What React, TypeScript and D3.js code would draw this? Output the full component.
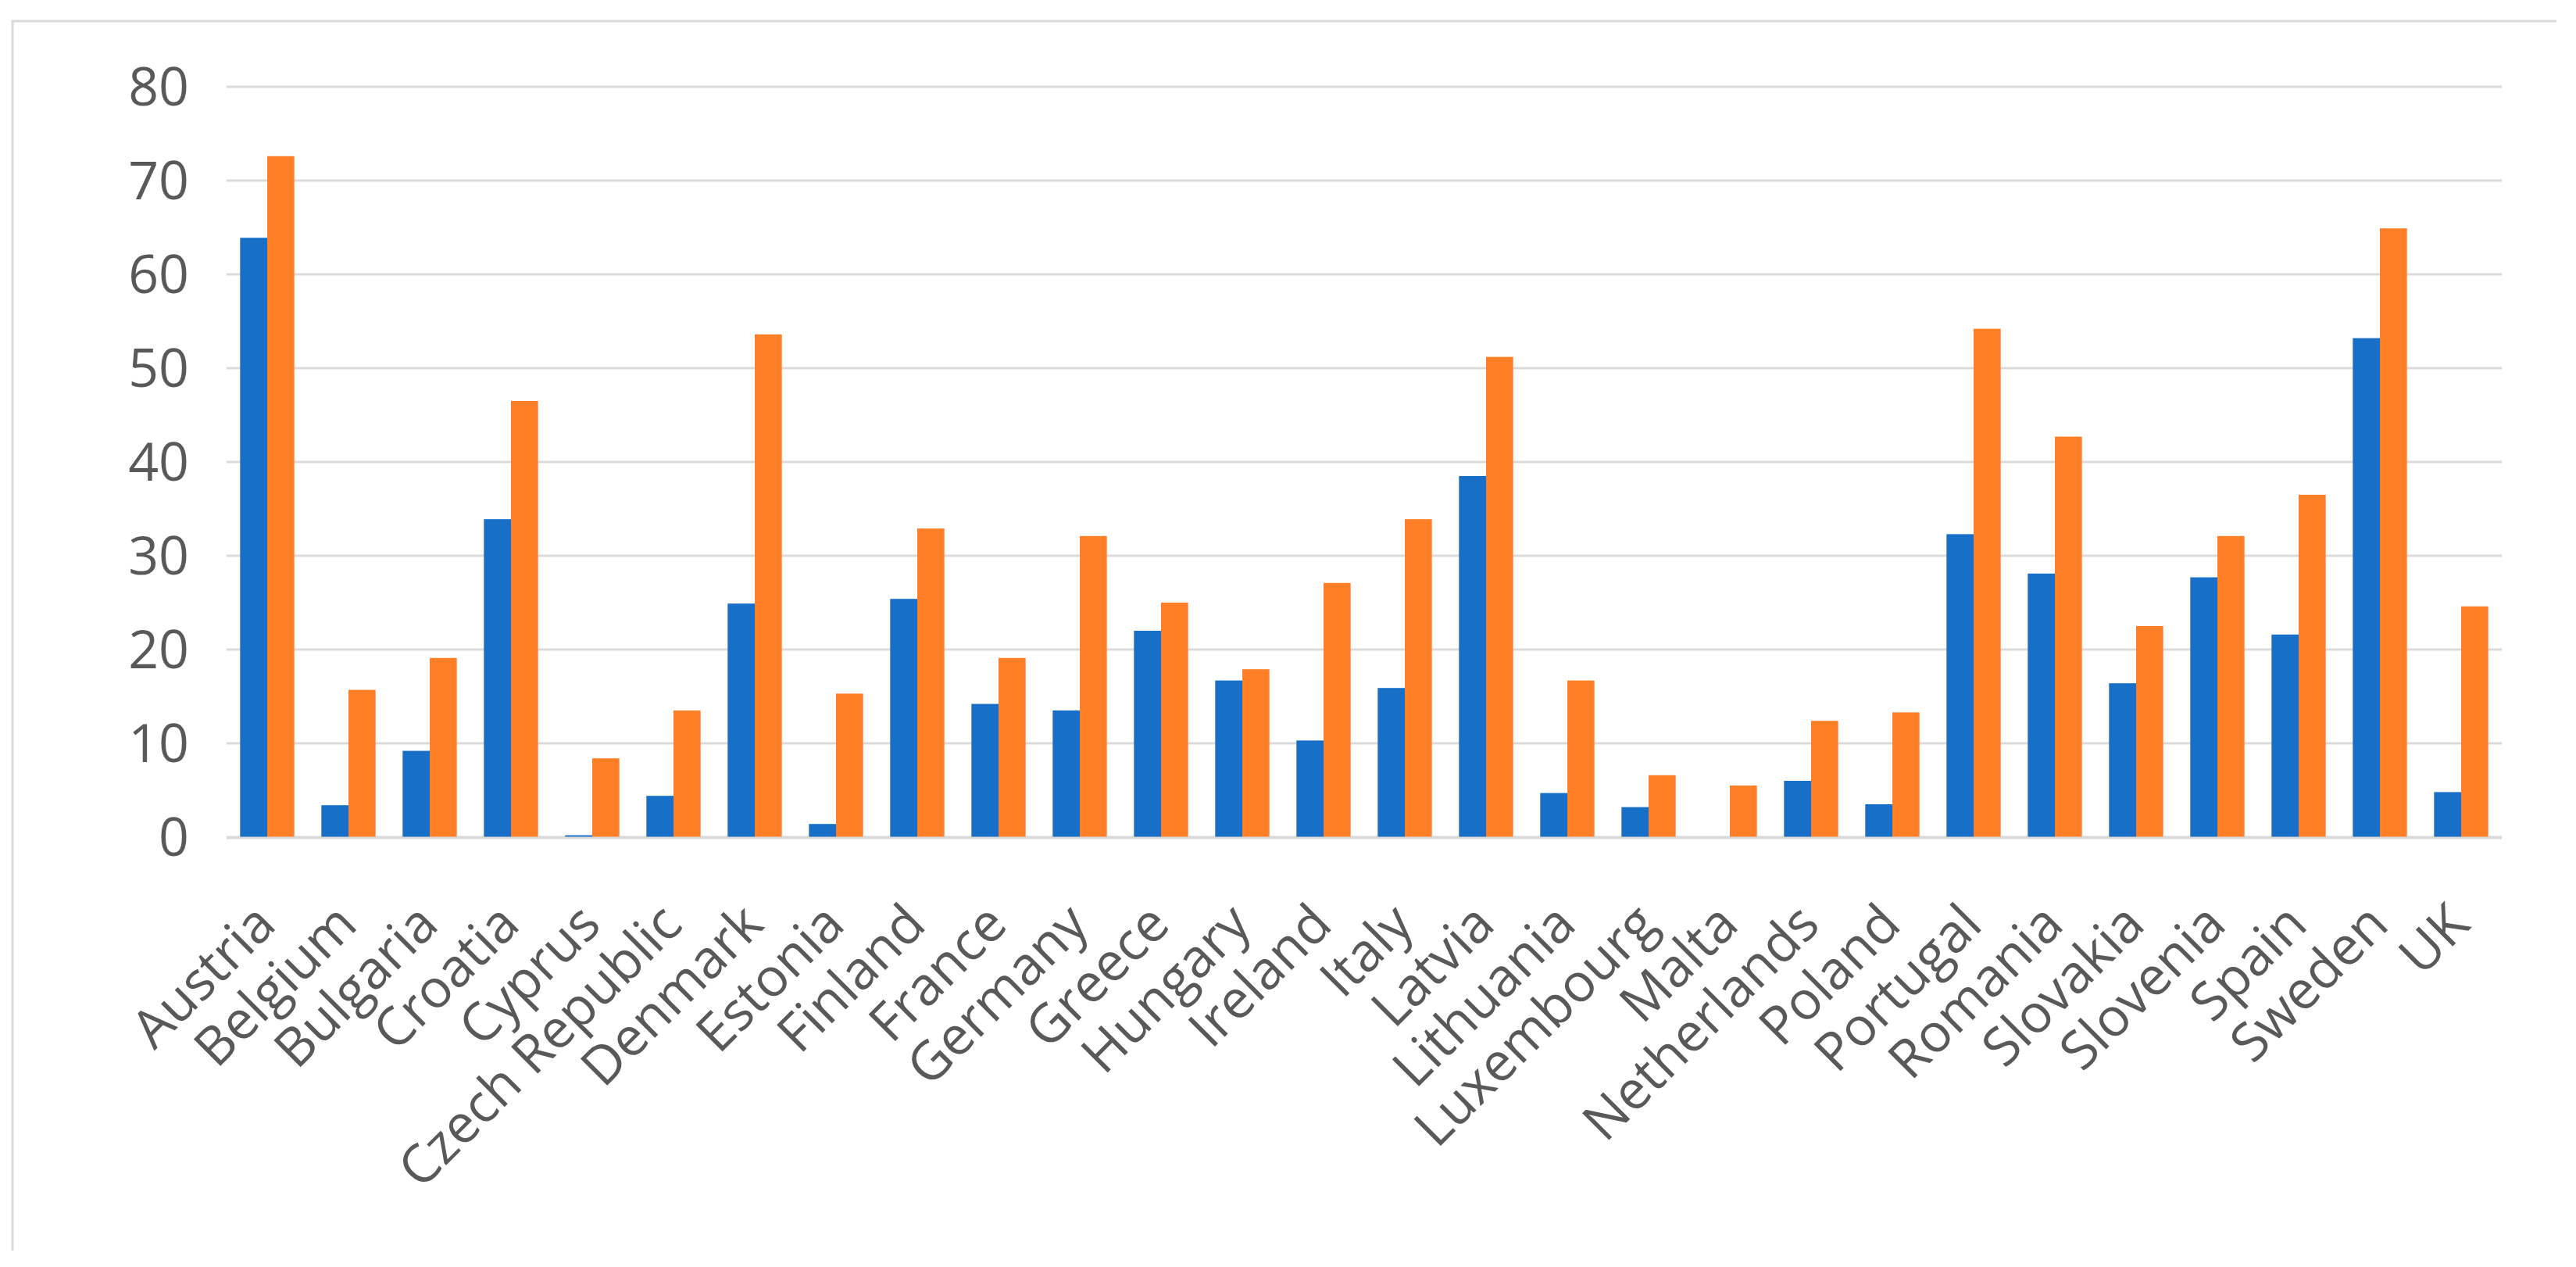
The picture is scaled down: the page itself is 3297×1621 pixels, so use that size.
import { useEffect, useRef } from 'react'
import * as d3 from 'd3'

const countries = [
  'Austria', 'Belgium', 'Bulgaria', 'Croatia', 'Cyprus', 'Czech Republic', 'Denmark', 'Estonia',
  'Finland', 'France', 'Germany', 'Greece', 'Hungary', 'Ireland', 'Italy', 'Latvia', 'Lithuania',
  'Luxembourg', 'Malta', 'Netherlands', 'Poland', 'Portugal', 'Romania', 'Slovakia', 'Slovenia',
  'Spain', 'Sweden', 'UK',
]
const blueValues = [
  63.9, 3.4, 9.2, 33.9, 0.2, 4.4, 24.9, 1.4,
  25.4, 14.2, 13.5, 22.0, 16.7, 10.3, 15.9, 38.5, 4.7,
  3.2, 0, 6.0, 3.5, 32.3, 28.1, 16.4, 27.7,
  21.6, 53.2, 4.8,
]
const orangeValues = [
  72.6, 15.7, 19.1, 46.5, 8.4, 13.5, 53.6, 15.3,
  32.9, 19.1, 32.1, 25.0, 17.9, 27.1, 33.9, 51.2, 16.7,
  6.6, 5.5, 12.4, 13.3, 54.2, 42.7, 22.5, 32.1,
  36.5, 64.9, 24.6,
]
const yTicks = [0, 10, 20, 30, 40, 50, 60, 70, 80]
const seriesKeys = ['blue', 'orange']
const seriesColors = ['#176fc8', '#ff7f27']

const W = 3297
const H = 1621

export default function App() {
  const ref = useRef<SVGSVGElement | null>(null)
  useEffect(() => {
    const svg = d3.select(ref.current)
    svg.selectAll('*').remove()

    const left = 290
    const right = 3202
    const y0 = 1071
    const y80 = 111
    const font = "'Open Sans', 'Noto Sans', sans-serif"

    const x = d3.scaleBand<string>().domain(countries).range([left, right]).padding(0)
    const xs = d3.scaleBand<string>().domain(seriesKeys).range([0, x.bandwidth()]).paddingInner(0).paddingOuter(0.5)
    const y = d3.scaleLinear().domain([0, 80]).range([y0, y80])

    svg.append('rect').attr('width', W).attr('height', H).attr('fill', '#fff')

    // chart frame (only top and left edges are visible in the crop)
    svg.append('path')
      .attr('d', `M16,${H - 21} L16,27 L3272,27`)
      .attr('fill', 'none')
      .attr('stroke', '#d9d9d9')
      .attr('stroke-width', 3)

    const grid = svg.append('g')
    grid.selectAll('line')
      .data(yTicks)
      .enter()
      .append('line')
      .attr('x1', left)
      .attr('x2', right)
      .attr('y1', (d: number) => y(d))
      .attr('y2', (d: number) => y(d))
      .attr('stroke', '#d9d9d9')
      .attr('stroke-width', 3)

    svg.append('g')
      .selectAll('text')
      .data(yTicks)
      .enter()
      .append('text')
      .attr('x', 242)
      .attr('y', (d: number) => y(d))
      .attr('dy', '0.36em')
      .attr('text-anchor', 'end')
      .attr('font-family', font)
      .attr('font-size', 68)
      .attr('fill', '#595959')
      .text((d: number) => String(d))

    const rows = countries.map((c, i) => ({ c, vals: [blueValues[i], orangeValues[i]] }))
    const groups = svg.append('g')
      .selectAll('g')
      .data(rows)
      .enter()
      .append('g')
      .attr('transform', (d: any) => `translate(${x(d.c)},0)`)

    groups.selectAll('rect')
      .data((d: any) => d.vals.map((v: number, k: number) => ({ key: seriesKeys[k], v, color: seriesColors[k] })))
      .enter()
      .append('rect')
      .attr('x', (d: any) => xs(d.key))
      .attr('width', xs.bandwidth())
      .attr('y', (d: any) => y(d.v))
      .attr('height', (d: any) => y0 - y(d.v))
      .attr('fill', (d: any) => d.color)

    svg.append('line')
      .attr('x1', left)
      .attr('x2', right)
      .attr('y1', y0 + 1)
      .attr('y2', y0 + 1)
      .attr('stroke', '#d9d9d9')
      .attr('stroke-width', 3)

    svg.append('g')
      .selectAll('text')
      .data(countries)
      .enter()
      .append('text')
      .attr('transform', (d: string) => `translate(${(x(d) ?? 0) + x.bandwidth() / 2 + 14},1186) rotate(-45)`)
      .attr('text-anchor', 'end')
      .attr('font-family', font)
      .attr('font-size', 68)
      .attr('fill', '#595959')
      .text((d: string) => d)
  }, [])
  return <svg ref={ref} width={W} height={H} style={{ position: 'absolute', left: 0, top: 0 }} />
}
